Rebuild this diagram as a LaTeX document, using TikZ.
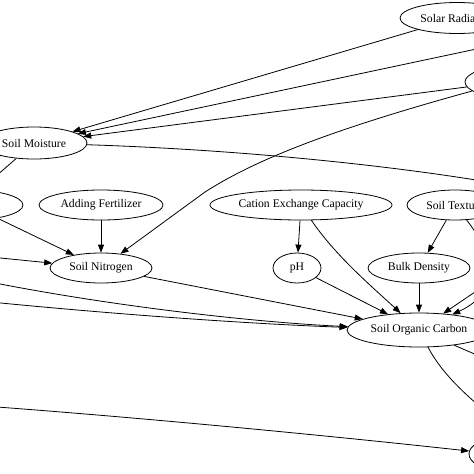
\documentclass[tikz,border=0pt]{standalone}
\usepackage{fontspec}
\setmainfont{Liberation Serif}
\usetikzlibrary{shapes.geometric,arrows.meta}

\begin{document}
\begin{tikzpicture}[x=1pt, y=-1pt, every node/.style={font=\fontsize{11.7}{14}\selectfont},
        var/.style={draw, ellipse, line width=0.8pt, inner sep=0pt, minimum height=30pt},
        link/.style={-{Triangle[length=8pt,width=6pt]}, line width=0.8pt}]
        \useasboundingbox (0,0) rectangle (474,474);
        \clip (0,0) rectangle (474,474);

        % Variables
        \node[var, minimum width=114pt, minimum height=31pt] (solar) at (457,18) {Solar Radiation};
        \node[var, minimum width=80pt] (offtop) at (505,82) {};
        \node[var, minimum width=106pt, minimum height=32pt] (moisture) at (34,143) {Soil Moisture};
        \node[var, minimum width=106pt] (offleft) at (-30,205) {};
        \node[var, minimum width=124pt] (fert) at (101,205) {Adding Fertilizer};
        \node[var, minimum width=182pt] (cec) at (301,205) {Cation Exchange Capacity};
        \node[var, minimum width=96pt] (texture) at (455,205) {Soil Texture};
        \node[var, minimum width=102pt] (nitrogen) at (101,268) {Soil Nitrogen};
        \node[var, minimum width=48pt] (ph) at (297,268) {pH};
        \node[var, minimum width=102pt] (bulk) at (419,268) {Bulk Density};
        \node[var, minimum width=144pt, minimum height=34pt] (soc) at (419,330) {Soil Organic Carbon};
        \node[var, minimum width=54pt] (offbottom) at (496,454) {};

        % loose ends outside the frame
        \coordinate (inA) at (500,44);
        \coordinate (inB) at (-30,255);
        \coordinate (inC) at (500,275);
        \coordinate (inD) at (-30,278);
        \coordinate (inE) at (-30,300);
        \coordinate (inF) at (-30,405);
        \coordinate (outA) at (500,184);
        \coordinate (outB) at (-20,190);
        \coordinate (outC) at (490,415);
        \coordinate (outD) at (500,365);

        % Edges
        \draw[link] (solar) -- (moisture);
        \draw[link] (inA) -- (moisture);
        \draw[link] (offtop) -- (moisture);
        \draw[link] (offtop) .. controls (330,130) and (255,160) .. (205,192) -- (nitrogen);
        \draw[link] (moisture) .. controls (250,150) and (400,167) .. (outA);
        \draw[link] (moisture) -- (outB);
        \draw[link] (offleft) -- (nitrogen);
        \draw[link] (inB) -- (nitrogen);
        \draw[link] (fert) -- (nitrogen);
        \draw[link] (cec) -- (ph);
        \draw[link] (cec) .. controls (335,255) and (370,285) .. (soc);
        \draw[link] (texture) -- (bulk);
        \draw[link] (texture) .. controls (490,250) and (505,290) .. (soc);
        \draw[link] (inC) -- (soc);
        \draw[link] (nitrogen) -- (soc);
        \draw[link] (ph) -- (soc);
        \draw[link] (bulk) -- (soc);
        \draw[link] (inD) .. controls (100,305) and (250,322) .. (soc);
        \draw[link] (inE) .. controls (150,318) and (280,325) .. (soc);
        \draw[link] (soc) .. controls (440,370) and (460,390) .. (outC);
        \draw[link] (soc) -- (outD);
        \draw[link] (inF) .. controls (150,418) and (350,438) .. (offbottom);
    \end{tikzpicture}
\end{document}
